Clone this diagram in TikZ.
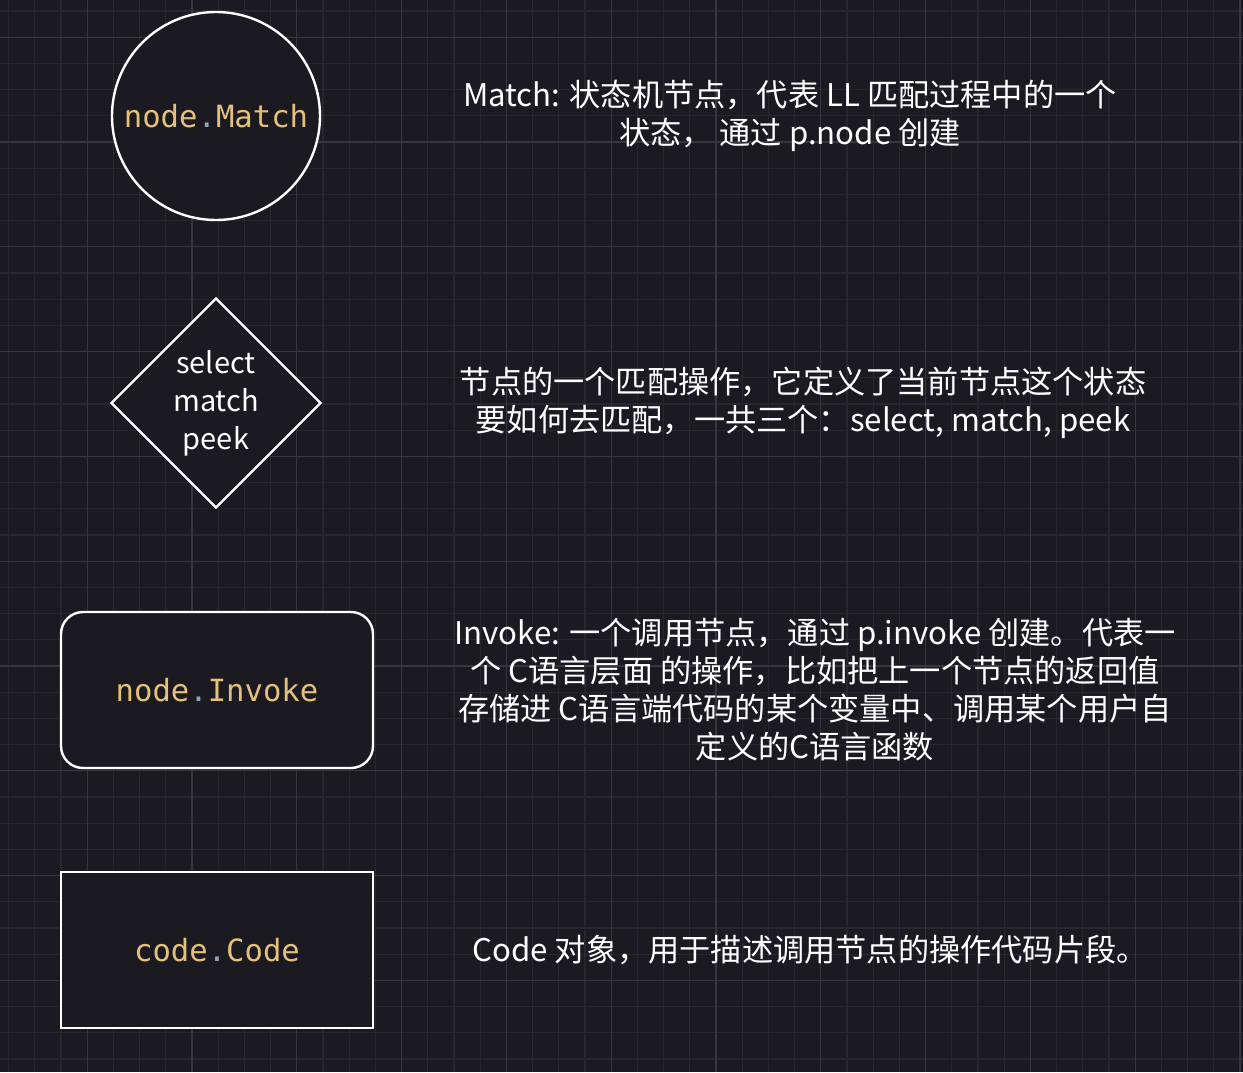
\documentclass[tikz,border=0pt]{standalone}
\usepackage{fontspec}
\setmainfont{Noto Sans CJK SC}
\newfontfamily\monof{DejaVu Sans Mono}
\usetikzlibrary{shapes.geometric}
\definecolor{bg}{HTML}{1B1A20}
\definecolor{gminor}{HTML}{28272D}
\definecolor{gmajor}{HTML}{37363C}
\definecolor{orng}{HTML}{E5C07B}
\definecolor{dotc}{HTML}{8FA3C0}
\tikzset{
  desc/.style={text=white,align=center,font=\fontsize{15.6}{19}\selectfont,inner sep=0},
  code/.style={text=orng,font=\monof\fontsize{15.3}{18}\selectfont},
  shp/.style={draw=white,line width=1.2pt,fill=bg}
}
\newcommand{\cd}[2]{#1{\color{dotc}.}#2}
\begin{document}
\begin{tikzpicture}[x=0.5pt,y=-0.5pt]
\fill[bg] (0,0) rectangle (1243,1072);
\useasboundingbox (0,0) rectangle (1243,1072);
\foreach \i in {0,...,48} {\draw[gminor,line width=0.6pt] ({8.6+26.2*\i},0) -- ++(0,1072);}
\foreach \i in {0,...,41} {\draw[gminor,line width=0.6pt] (0,{11+26.2*\i}) -- ++(1243,0);}
\foreach \i in {0,...,12} {\draw[gmajor,line width=0.6pt] ({87.2+104.8*\i},0) -- ++(0,1072);}
\foreach \i in {0,...,10} {\draw[gmajor,line width=0.6pt] (0,{37.2+104.8*\i}) -- ++(1243,0);}
\node[shp,circle,minimum size=104pt,inner sep=0] (c) at (216,116) {};
\node[code] (ct) at (c) {\cd{node}{Match}};
\node[shp,diamond,minimum size=105pt,inner sep=0] (d) at (216,403) {};
\node[text=white,align=center,font=\fontsize{14.5}{19}\selectfont] (dt) at (d) {select\\match\\peek};
\node[shp,rounded corners=11pt,minimum width=156pt,minimum height=78pt] (r) at (217,690) {};
\node[code] (rt) at (r) {\cd{node}{Invoke}};
\node[shp,minimum width=156pt,minimum height=78pt] (s) at (217,950) {};
\node[code] (st) at (s) {\cd{code}{Code}};
\node[desc] (t1) at (790,116) {Match: 状态机节点，代表 LL 匹配过程中的一个\\状态，\ 通过 p.node 创建};
\node[desc] (t2) at (803,403) {节点的一个匹配操作，它定义了当前节点这个状态\\要如何去匹配，一共三个：select, match, peek};
\node[desc] (t3) at (815,690) {Invoke: 一个调用节点，通过 p.invoke 创建。代表一\\个 C语言层面 的操作，比如把上一个节点的返回值\\存储进 C语言端代码的某个变量中、调用某个用户自\\定义的C语言函数};
\node[desc] (t4) at (810,950) {Code 对象，用于描述调用节点的操作代码片段。};
\end{tikzpicture}
\end{document}
